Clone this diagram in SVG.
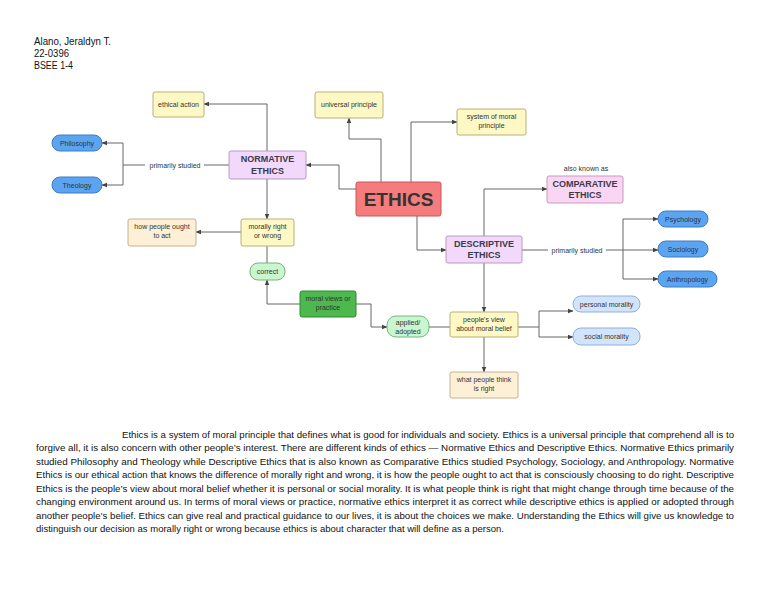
<svg xmlns="http://www.w3.org/2000/svg" width="768" height="594" viewBox="0 0 768 594">
<style>
text{font-family:"Liberation Sans",Arial,sans-serif;fill:#333}
.s{font-size:7px;text-anchor:middle}
.b{font-size:9px;font-weight:bold;text-anchor:middle;fill:#3a3a4a}
.y{fill:#fdf8c4;stroke:#b8b07a;stroke-width:1}
.o{fill:#fdf0d6;stroke:#c8b28a;stroke-width:1}
.p{fill:#f2d9fb;stroke:#b79ac6;stroke-width:1}
.pk{fill:#fad6f4;stroke:#c59abd;stroke-width:1}
.bl{fill:#5aa4f2;stroke:#3e7cc0;stroke-width:1}
.lb{fill:#d2e4fb;stroke:#8fb0d8;stroke-width:1}
.g{fill:#c9f5cf;stroke:#72b77c;stroke-width:1}
.c path{fill:none;stroke:#666;stroke-width:1}
.t{font-size:9.3px;fill:#111}
.h{font-size:10px;fill:#111}
</style>
<defs><marker id="a" viewBox="0 0 10 10" refX="9" refY="5" markerWidth="6" markerHeight="6" orient="auto"><path d="M0,1 L10,5 L0,9z" fill="#444"/></marker></defs>
<rect width="768" height="594" fill="#fff"/>
<text class="h" x="34" y="45" textLength="77" lengthAdjust="spacingAndGlyphs">Alano, Jeraldyn T.</text>
<text class="h" x="34" y="57" textLength="35" lengthAdjust="spacingAndGlyphs">22-0396</text>
<text class="h" x="34" y="69" textLength="39" lengthAdjust="spacingAndGlyphs">BSEE 1-4</text>
<g class="c">
<path d="M356,189 H339 V165 H306" marker-end="url(#a)"/>
<path d="M381,182 V139 H349 V118" marker-end="url(#a)"/>
<path d="M411,182 V122 H457" marker-end="url(#a)"/>
<path d="M417,216 V250 H446" marker-end="url(#a)"/>
<path d="M484,236 V189 H547" marker-end="url(#a)"/>
<path d="M484,263 V312" marker-end="url(#a)"/>
<path d="M484,337 V372" marker-end="url(#a)"/>
<path d="M522,250 H548 M606,250 H623"/>
<path d="M623,250 V219 H658" marker-end="url(#a)"/>
<path d="M623,250 H658" marker-end="url(#a)"/>
<path d="M623,250 V279 H658" marker-end="url(#a)"/>
<path d="M518,327 H539 V311 H573" marker-end="url(#a)"/>
<path d="M539,327 V337 H573" marker-end="url(#a)"/>
<path d="M267,151 V104 H204" marker-end="url(#a)"/>
<path d="M267,179 V219" marker-end="url(#a)"/>
<path d="M241,232 H196" marker-end="url(#a)"/>
<path d="M267,246 V263"/>
<path d="M300,304 H267 V280" marker-end="url(#a)"/>
<path d="M356,304 H371 V327 H387" marker-end="url(#a)"/>
<path d="M429,327 H450"/>
<path d="M229,165 H204 M145,165 H123"/>
<path d="M123,165 V143 H102" marker-end="url(#a)"/>
<path d="M123,165 V185 H102" marker-end="url(#a)"/>
</g>
<text class="s" x="175" y="168">primarily studied</text>
<text class="s" x="577" y="253">primarily studied</text>
<text class="s" x="586" y="171">also known as</text>
<g id="ethics"><rect x="356" y="182" width="85" height="34" rx="2" fill="#f47c7c" stroke="#c55" /><text x="398.5" y="206" font-size="19" font-weight="bold" text-anchor="middle" fill="#3a2a2a">ETHICS</text></g>
<g id="ethical-action"><rect class="y" x="153" y="92" width="51" height="25" rx="2"/><text class="s" x="178.5" y="107">ethical action</text></g>
<g id="universal"><rect class="y" x="315" y="92" width="68" height="26" rx="2"/><text class="s" x="349" y="107">universal principle</text></g>
<g id="system"><rect class="y" x="457" y="109" width="69" height="26" rx="2"/><text class="s" x="491.5" y="119">system of moral</text><text class="s" x="491.5" y="128">principle</text></g>
<g id="normative"><rect class="p" x="229" y="151" width="77" height="28" rx="2"/><text class="b" x="267.5" y="162">NORMATIVE</text><text class="b" x="267.5" y="174">ETHICS</text></g>
<g id="philosophy"><rect class="bl" x="52" y="135" width="50" height="16" rx="8"/><text class="s" x="77" y="146">Philosophy</text></g>
<g id="theology"><rect class="bl" x="52" y="177" width="50" height="16" rx="8"/><text class="s" x="77" y="188">Theology</text></g>
<g id="how"><rect class="o" x="128" y="219" width="68" height="27" rx="2"/><text class="s" x="162" y="229">how people ought</text><text class="s" x="162" y="238">to act</text></g>
<g id="morally"><rect class="y" x="241" y="219" width="53" height="27" rx="2"/><text class="s" x="267.5" y="229">morally right</text><text class="s" x="267.5" y="238">or wrong</text></g>
<g id="correct"><rect class="g" x="250" y="263" width="35" height="17" rx="8"/><text class="s" x="267.5" y="274">correct</text></g>
<g id="moral-views"><rect x="300" y="291" width="56" height="26" rx="2" fill="#4cb84e" stroke="#2e8a32"/><text class="s" x="328" y="301">moral views or</text><text class="s" x="328" y="310">practice</text></g>
<g id="applied"><rect class="g" x="387" y="316" width="42" height="21" rx="9"/><text class="s" x="408" y="325">applied/</text><text class="s" x="408" y="334">adopted</text></g>
<g id="comparative"><rect class="pk" x="547" y="176" width="76" height="27" rx="2"/><text class="b" x="585" y="187">COMPARATIVE</text><text class="b" x="585" y="198">ETHICS</text></g>
<g id="descriptive"><rect class="p" x="446" y="236" width="76" height="27" rx="2"/><text class="b" x="484" y="247">DESCRIPTIVE</text><text class="b" x="484" y="258">ETHICS</text></g>
<g id="psychology"><rect class="bl" x="658" y="211" width="50" height="16" rx="8"/><text class="s" x="683" y="222">Psychology</text></g>
<g id="sociology"><rect class="bl" x="658" y="241" width="50" height="16" rx="8"/><text class="s" x="683" y="252">Sociology</text></g>
<g id="anthropology"><rect class="bl" x="658" y="271" width="59" height="16" rx="8"/><text class="s" x="687.5" y="282">Anthropology</text></g>
<g id="peoples-view"><rect class="y" x="450" y="312" width="68" height="25" rx="2"/><text class="s" x="484" y="322">people's view</text><text class="s" x="484" y="331">about moral belief</text></g>
<g id="personal"><rect class="lb" x="573" y="296" width="67" height="16" rx="8"/><text class="s" x="606.5" y="307">personal morality</text></g>
<g id="social"><rect class="lb" x="573" y="328" width="67" height="17" rx="8"/><text class="s" x="606.5" y="339">social morality</text></g>
<g id="what"><rect class="o" x="450" y="372" width="68" height="26" rx="2"/><text class="s" x="484" y="382">what people think</text><text class="s" x="484" y="391">is right</text></g>
<g id="paragraph">
<text class="t" x="122" y="438" textLength="612" lengthAdjust="spacingAndGlyphs">Ethics is a system of moral principle that defines what is good for individuals and society. Ethics is a universal principle that comprehend all is to</text>
<text class="t" x="36" y="451" textLength="698" lengthAdjust="spacingAndGlyphs">forgive all, it is also concern with other people’s interest. There are different kinds of ethics — Normative Ethics and Descriptive Ethics. Normative Ethics primarily</text>
<text class="t" x="36" y="465" textLength="698" lengthAdjust="spacingAndGlyphs">studied Philosophy and Theology while Descriptive Ethics that is also known as Comparative Ethics studied Psychology, Sociology, and Anthropology. Normative</text>
<text class="t" x="36" y="478" textLength="698" lengthAdjust="spacingAndGlyphs">Ethics is our ethical action that knows the difference of morally right and wrong, it is how the people ought to act that is consciously choosing to do right. Descriptive</text>
<text class="t" x="36" y="492" textLength="698" lengthAdjust="spacingAndGlyphs">Ethics is the people’s view about moral belief whether it is personal or social morality. It is what people think is right that might change through time because of the</text>
<text class="t" x="36" y="505" textLength="698" lengthAdjust="spacingAndGlyphs">changing environment around us. In terms of moral views or practice, normative ethics interpret it as correct while descriptive ethics is applied or adopted through</text>
<text class="t" x="36" y="519" textLength="698" lengthAdjust="spacingAndGlyphs">another people’s belief.  Ethics can give real and practical guidance to our lives, it is about the choices we make. Understanding the Ethics will give us knowledge to</text>
<text class="t" x="36" y="532" textLength="468" lengthAdjust="spacingAndGlyphs">distinguish our decision as morally right or wrong because ethics is about character that will define as a person.</text>
</g>
</svg>
